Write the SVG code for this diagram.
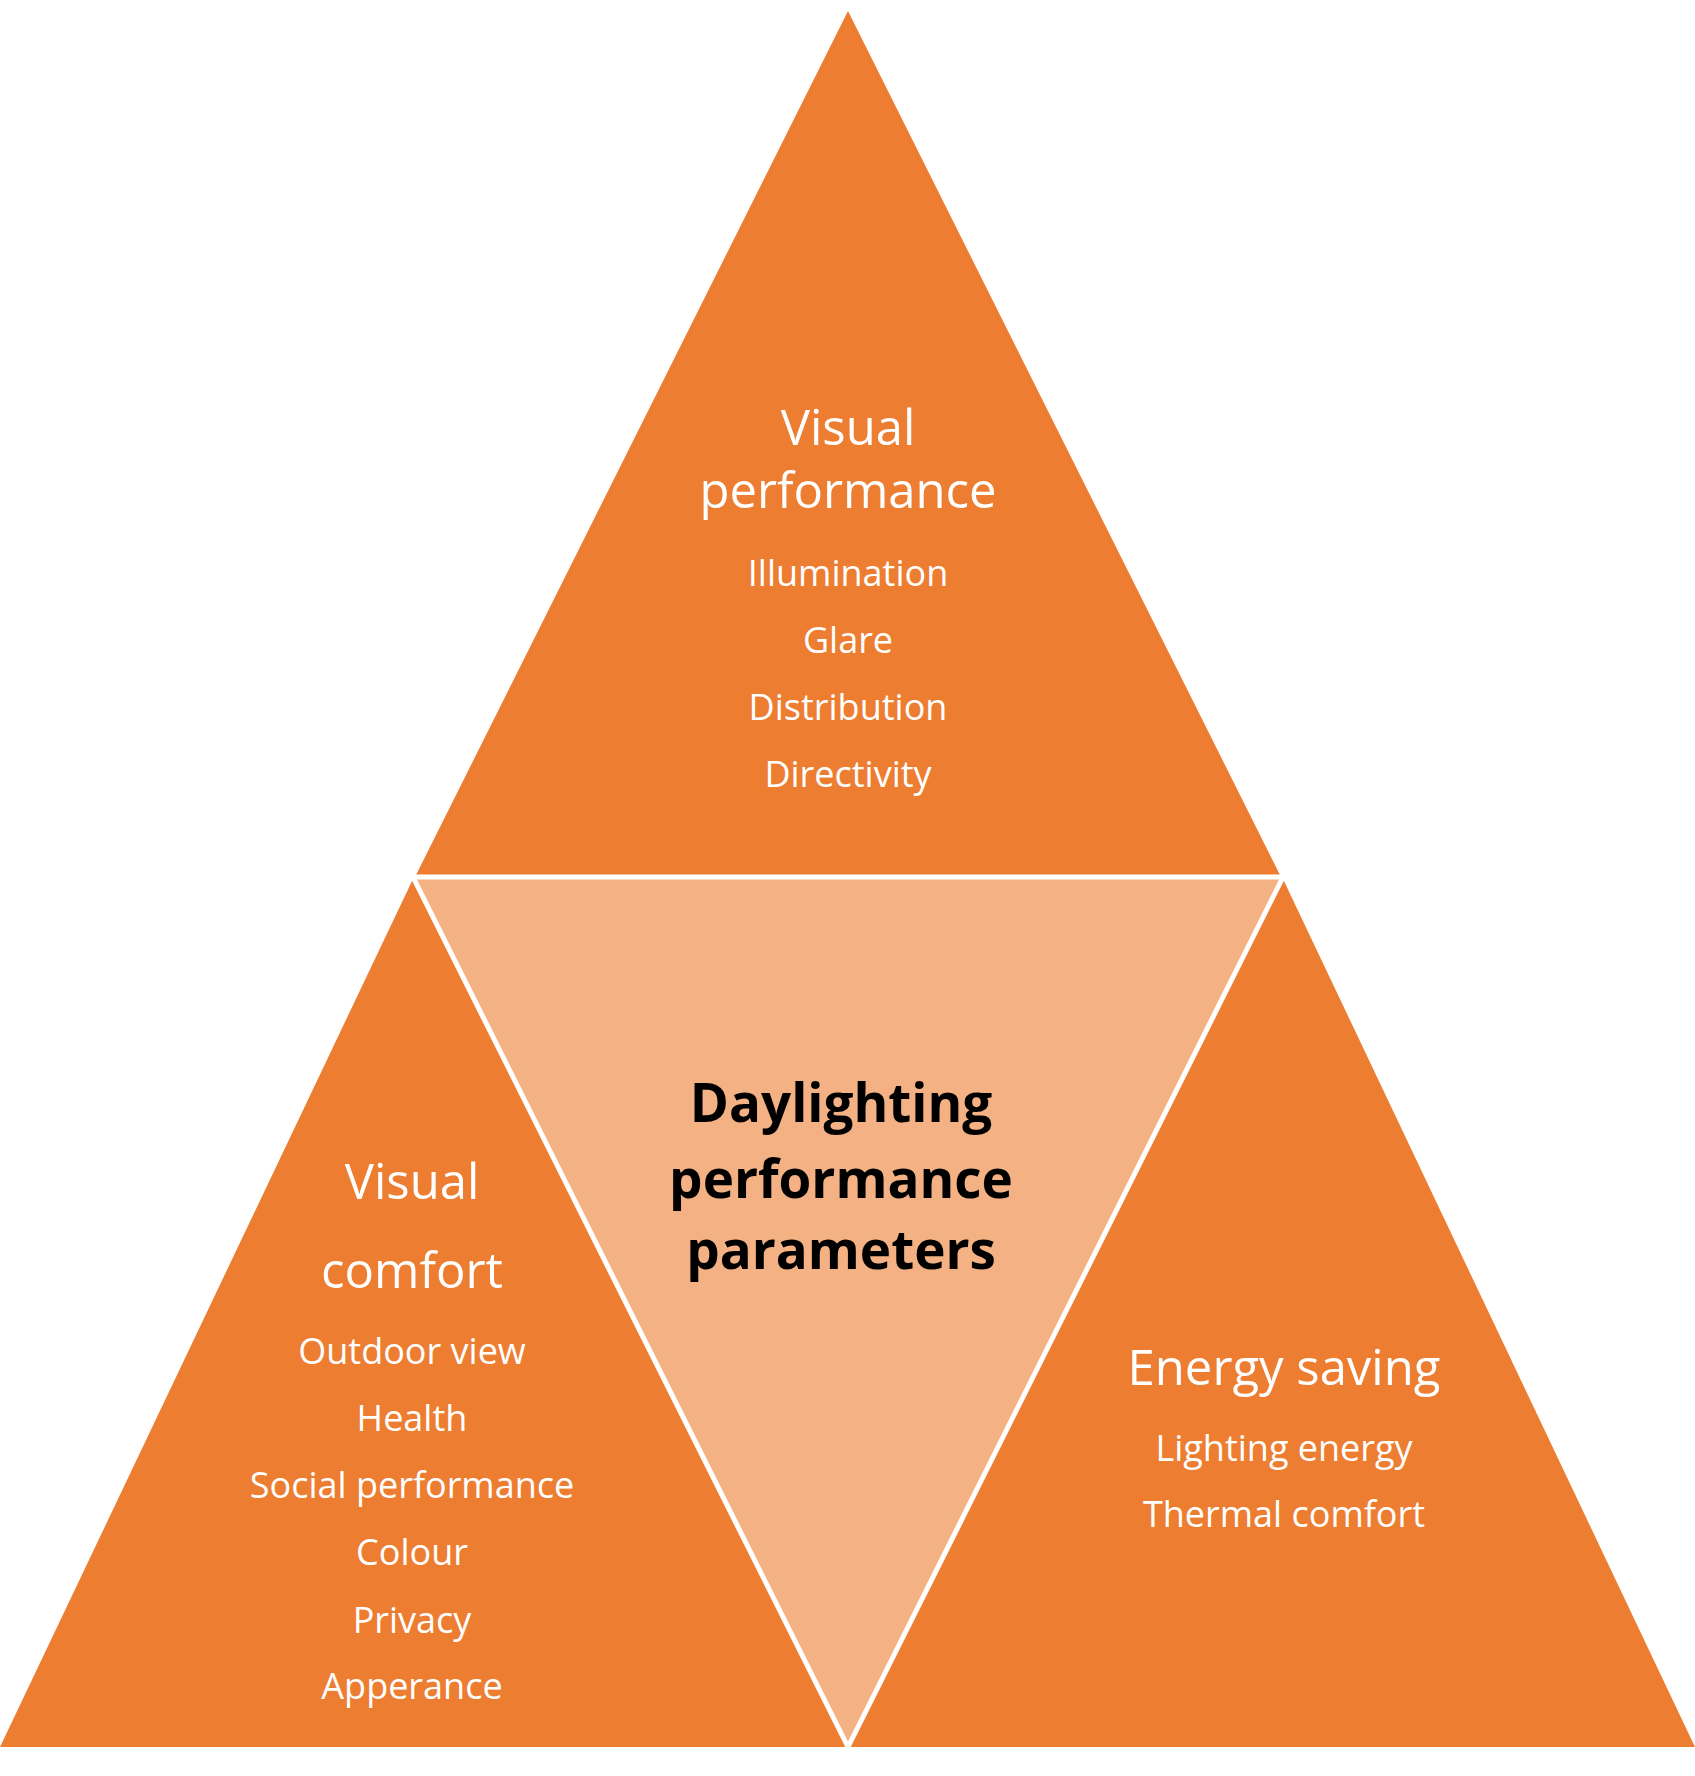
<svg xmlns="http://www.w3.org/2000/svg" width="1695" height="1776" viewBox="0 0 1695 1776">
<style>
.o{fill:#ED7D31}
.l{fill:#F4B183;stroke:#fff;stroke-width:5;stroke-linejoin:miter}
text{font-family:"Open Sans","Liberation Sans",sans-serif;text-anchor:middle;fill:#fff}
.h{font-size:49px}
.s{font-size:36px}
.b{font-size:53px;font-weight:bold;fill:#000}
</style>
<rect width="1695" height="1776" fill="#fff"/>
<g id="top"><polygon class="o" points="848,11 1281,877 415,877"/>
<text class="h" x="848" y="445">Visual</text><text class="h" x="848" y="508">performance</text>
<text class="s" x="848" y="586">Illumination</text><text class="s" x="848" y="653">Glare</text>
<text class="s" x="848" y="720">Distribution</text><text class="s" x="848" y="787">Directivity</text></g>
<g id="left"><polygon class="o" points="413,879 848,1747 0,1747"/>
<text class="h" x="412" y="1199">Visual</text><text class="h" x="412" y="1288">comfort</text>
<text class="s" x="412" y="1364">Outdoor view</text><text class="s" x="412" y="1431">Health</text>
<text class="s" x="412" y="1498">Social performance</text><text class="s" x="412" y="1565">Colour</text>
<text class="s" x="412" y="1633">Privacy</text><text class="s" x="412" y="1699">Apperance</text></g>
<g id="right"><polygon class="o" points="1283,879 1695,1747 848,1747"/>
<text class="h" x="1284" y="1385">Energy saving</text>
<text class="s" x="1284" y="1461">Lighting energy</text><text class="s" x="1284" y="1527">Thermal comfort</text></g>
<g id="center"><polygon class="l" points="413,877 1283,877 848,1747"/>
<text class="b" x="841" y="1122">Daylighting</text><text class="b" x="841" y="1198">performance</text><text class="b" x="841" y="1269">parameters</text></g>
<g id="connectors"/>
</svg>
